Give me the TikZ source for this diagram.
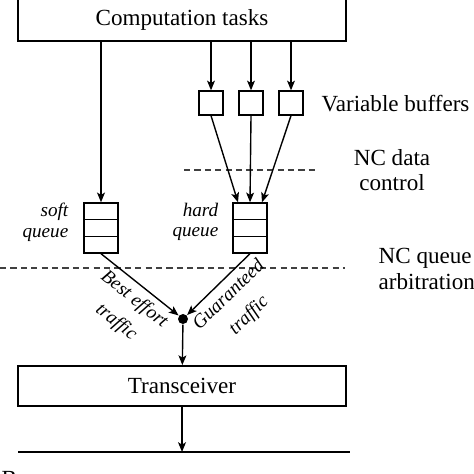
\documentclass[tikz,border=0pt]{standalone}
\usepackage{fontspec}
\setmainfont{Liberation Serif}
\usetikzlibrary{positioning, arrows.meta, calc}

\newcommand{\px}{0.433pt}

\tikzset{
    bigbox/.style={draw, line width=0.8pt, minimum width=328*\px, inner sep=0pt},
    bufbox/.style={draw, line width=0.55pt, minimum size=24*\px, inner sep=0pt},
    queuebox/.style={draw, line width=0.6pt, minimum width=34*\px, minimum height=50*\px, inner sep=0pt},
    lbl/.style={inner sep=0pt, font=\fontsize{8.3}{9}\selectfont\itshape},
    trafficlbl/.style={inner sep=2.5pt, font=\fontsize{8.3}{12.5}\selectfont\itshape, align=center},
    sep/.style={draw=black!75, line width=0.55pt, dash pattern=on 2.7pt off 1.8pt},
}

\begin{document}
\begin{tikzpicture}[x=0.433pt, y=-0.433pt, line width=0.6pt,
    >={Stealth[length=4.2pt, width=3.4pt, inset=1pt]}]
    \useasboundingbox (0,0) rectangle (474,474);
    \clip (0,0) rectangle (474,474);

    % blocks
    \node[bigbox, anchor=south, text height=16pt, text depth=6.9pt] (tasks) at (182,42) {Computation tasks};
    \node[bigbox, minimum height=40*\px] (trx) at (182,386) {Transceiver};
    \foreach \i/\x in {1/211, 2/251, 3/291}
        \node[bufbox] (b\i) at (\x,103) {};
    \node[queuebox] (sq) at (101,228) {};
    \node[queuebox] (hq) at (250,228) {};
    \foreach \q in {sq, hq}
        \foreach \f in {1/3, 2/3}
            \draw ($(\q.north west)!\f!(\q.south west)$) -- ($(\q.north east)!\f!(\q.south east)$);
    \node[circle, fill, inner sep=0pt, minimum size=10*\px] (j) at (183,319) {};

    % labels
    \node[inner sep=0pt, anchor=west] (buflbl) at (321,104) {Variable buffers};
    \node[inner sep=0pt, align=center, font=\fontsize{10}{11}\selectfont] (dclbl) at (392,170) {NC data\\control};
    \node[inner sep=0pt, align=left, anchor=west, font=\fontsize{10}{11}\selectfont] (qalbl) at (378,269) {NC queue\\arbitration};
    \node[lbl, align=right, anchor=east] (sqlbl) at (69,222) {soft\\queue};
    \node[lbl, align=right, anchor=east] (hqlbl) at (219,222) {hard\\queue};
    \node[inner sep=0pt, anchor=base west] (buslbl) at (1,486) {Bus};

    % separators
    \coordinate (dc1) at (184,170);
    \coordinate (dc2) at (318,170);
    \coordinate (qa1) at (0,268);
    \coordinate (qa2) at (345,268);
    \draw[sep] (dc1) -- (dc2);
    \draw[sep] (qa1) -- (qa2);

    % bus
    \coordinate (bus1) at (18,452);
    \coordinate (bus2) at (350,452);
    \draw[line width=0.8pt] (bus1) -- (bus2);

    % flows
    \draw[->] (tasks.south -| sq) -- (sq);
    \foreach \i in {1,2,3}
        \draw[->] (tasks.south -| b\i) -- (b\i);
    \foreach \i/\d in {1/-12, 2/0, 3/12}
        \draw[->] (b\i.south) -- ([xshift=\d*\px]hq.north);
    \draw[->] (sq.south) -- (j) node[trafficlbl, pos=0.55, sloped, below] {Best effort\\traffic};
    \draw[->] (hq.south) -- (j) node[trafficlbl, midway, sloped, below] {Guaranteed\\traffic};
    \draw[->] (j) -- (trx);
    \draw[->] (trx) -- (trx |- bus1);
\end{tikzpicture}
\end{document}
